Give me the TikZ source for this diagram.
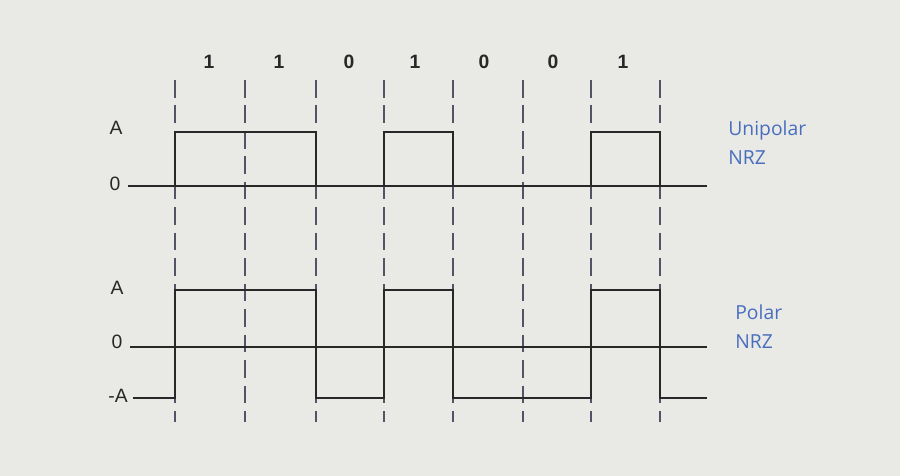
\documentclass[tikz,border=0pt]{standalone}
\usepackage{fontspec}
\setmainfont{Liberation Sans}
\newfontfamily\labelfont{Open Sans}
\usetikzlibrary{positioning}

\definecolor{screen}{RGB}{233,233,229}
\definecolor{ink}{RGB}{40,40,40}
\definecolor{grid}{RGB}{80,84,100}
\definecolor{note}{RGB}{72,110,190}

\begin{document}
\begin{tikzpicture}[
    x=0.02cm, y=-0.02cm,
    wave/.style={
        draw=ink, line width=1.1pt, line join=miter
    },
    axis/.style={
        draw=ink, line width=1pt
    },
    slot/.style={
        draw=grid, line width=.8pt, dash pattern=on 10pt off 4.5pt
    },
    bit/.style={
        font=\bfseries\fontsize{11}{13}\selectfont, text=ink, inner sep=1pt
    },
    level/.style={
        font=\fontsize{11}{13}\selectfont, text=ink, inner sep=1pt
    },
    sigtag/.style={
        font=\labelfont\fontsize{11}{13}\selectfont, text=note,
        inner sep=0pt, anchor=base west
    }
]

    \fill[screen] (0,0) rectangle (900,476);
    \useasboundingbox (0,0) rectangle (900,476);

    % bit slots
    \foreach \x/\n in {175/s0,245/s1,316/s2,384/s3,453/s4,523/s5,591/s6,660/s7}{
        \coordinate (\n t) at (\x,80);
        \coordinate (\n b) at (\x,422);
        \draw[slot] (\n t) to (\n b);
    }

    \foreach \x/\b [count=\i] in {209/1,279/1,349/0,415/1,484/0,553/0,623/1}
        \node[bit] (b\i) at (\x,62) {\b};

    % unipolar NRZ
    \node[level] (ua) at (116,128) {A};
    \node[level] (uz) at (115,184) {0};
    \coordinate (ul) at (128,186);
    \coordinate (ur) at (707,186);
    \draw[axis] (ul) to (ur);
    \draw[wave] (175,186) -- (175,132) -- (316,132) -- (316,186);
    \draw[wave] (384,186) -- (384,132) -- (453,132) -- (453,186);
    \draw[wave] (591,186) -- (591,132) -- (660,132) -- (660,186);
    \node[sigtag] (un1) at (728,136) {Unipolar};
    \node[sigtag] (un2) at (728,165) {NRZ};

    % polar NRZ
    \node[level] (pa) at (117,288) {A};
    \node[level] (pz) at (117,342) {0};
    \node[level] (pm) at (118,396) {-A};
    \coordinate (pl) at (130,347);
    \coordinate (pr) at (707,347);
    \coordinate (ps) at (133,398);
    \draw[axis] (pl) to (pr);
    \draw[wave] (ps) -- (175,398) -- (175,290) -- (316,290) -- (316,398)
        -- (384,398) -- (384,290) -- (453,290) -- (453,398) -- (591,398) -- (591,290)
        -- (660,290) -- (660,398) -- (707,398);
    \node[sigtag] (pn1) at (735,320) {Polar};
    \node[sigtag] (pn2) at (735,349) {NRZ};

\end{tikzpicture}
\end{document}
